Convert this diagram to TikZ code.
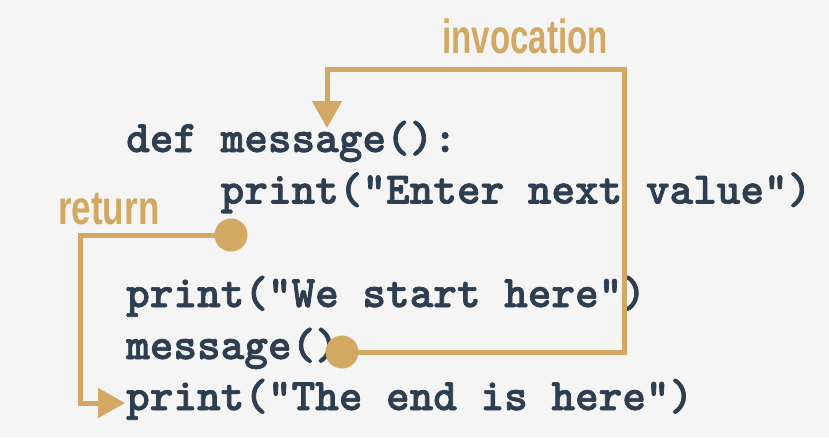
\documentclass[tikz,border=0pt]{standalone}
\usepackage{fontspec}
\usetikzlibrary{arrows.meta}
\newfontfamily\codefont{lmmonolt10-bold.otf}[FakeBold=1.6]
\newfontfamily\labfont{Liberation Sans}
\definecolor{bgc}{HTML}{F5F5F5}
\definecolor{gold}{HTML}{D3A863}
\definecolor{navy}{HTML}{2C3E50}
\tikzset{
  codeline/.style={anchor=base west, inner sep=0pt, text=navy, font=\codefont\fontsize{45}{52}\selectfont},
  lab/.style={anchor=base west, inner sep=0pt, text=gold, font=\labfont\bfseries\fontsize{48}{52}\selectfont},
  dot/.style={circle, fill=gold, minimum size=33pt, inner sep=0pt},
  conn/.style={draw=gold, line width=5pt},
  tip/.style={-{Triangle[width=29pt,length=27pt]}}
}
\begin{document}
\begin{tikzpicture}[x=1pt,y=-1pt]
\useasboundingbox (0,0) rectangle (829,437);
\fill[bgc] (0,0) rectangle (829,437);
% code
\node[codeline] (l1) at (126,152) {def message():};
\node[codeline] (l2) at (220.5,203.5) {print("Enter next value")};
\node[codeline] (l3) at (126,307) {print("We start here")};
\node[codeline] (l4) at (126,359) {message()};
\node[codeline] (l5) at (126,410) {print("The end is here")};
% labels
\node[lab] (inv) at (442,53) {\scalebox{0.69}[1]{invocation}};
\node[lab] (ret) at (58,224) {\scalebox{0.73}[1]{return}};
% dots
\node[dot] (dA) at (231,235) {};
\node[dot] (dB) at (342,352) {};
% corners
\coordinate (c1) at (624,352);
\coordinate (c2) at (624,69);
\coordinate (c3) at (327,69);
\coordinate (tA) at (327,128);
\coordinate (c4) at (80,235);
\coordinate (c5) at (80,403);
\coordinate (tB) at (125,403);
\draw[conn,tip] (dB.center) -- (c1) -- (c2) -- (c3) -- (tA);
\draw[conn,tip] (dA.center) -- (c4) -- (c5) -- (tB);
\end{tikzpicture}
\end{document}
